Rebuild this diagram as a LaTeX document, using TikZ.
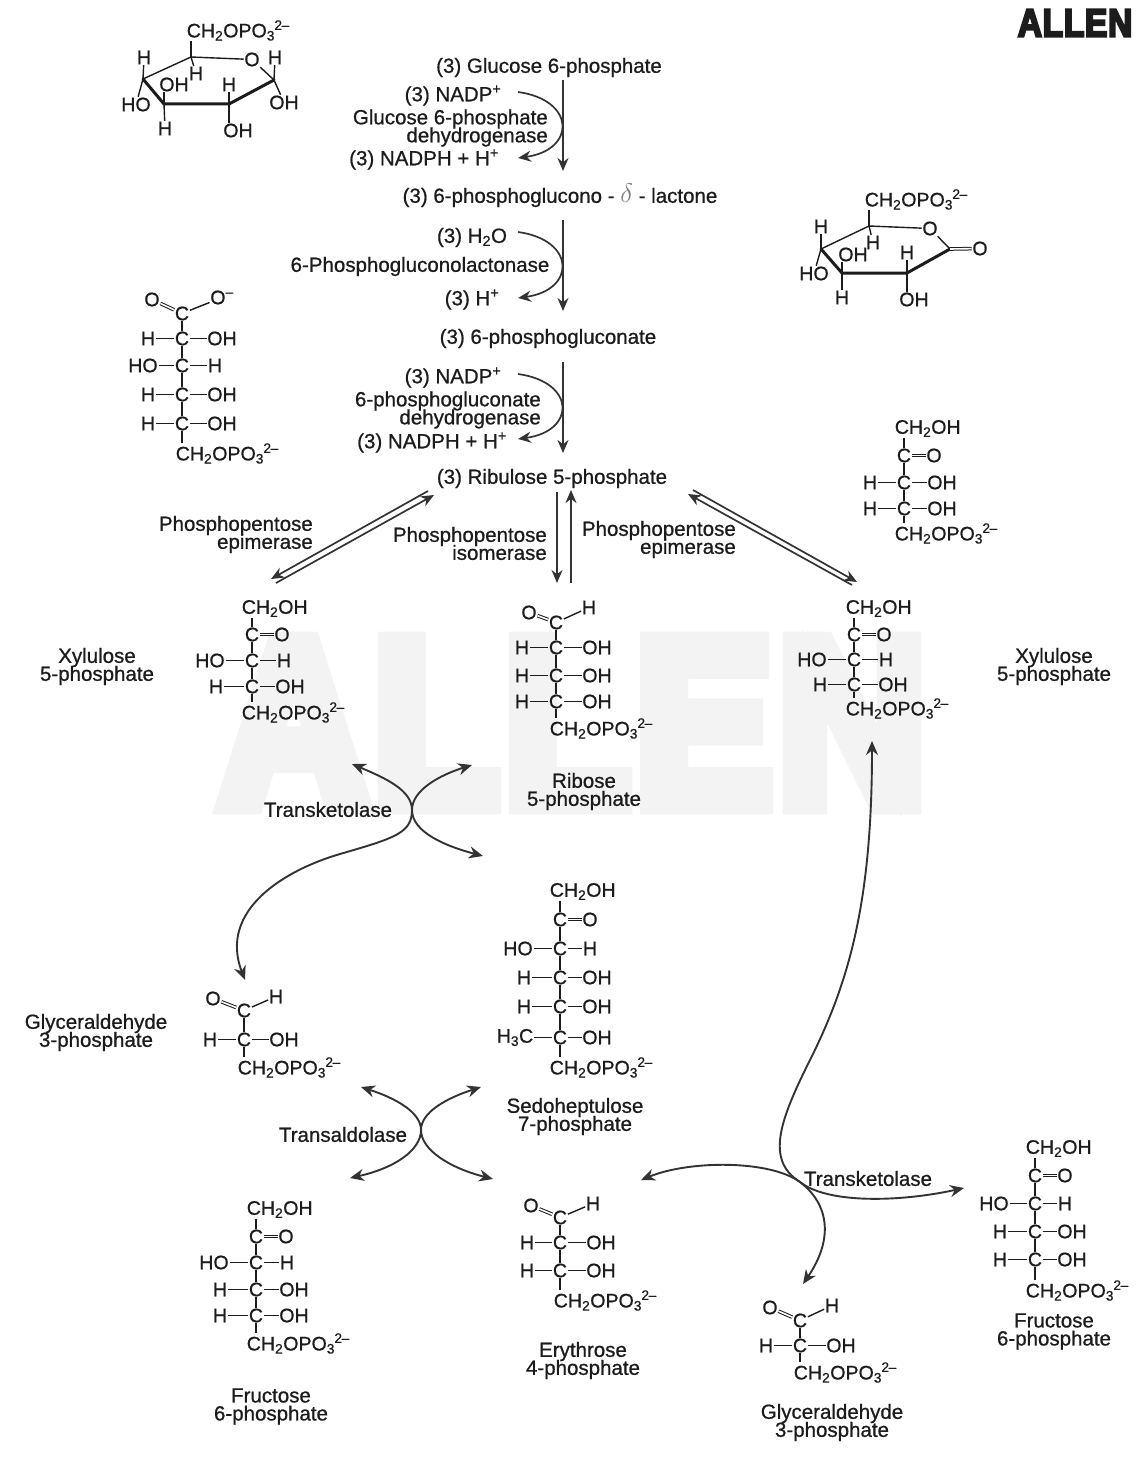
\documentclass[tikz,border=0pt]{standalone}
\usepackage{fontspec}
\setmainfont{Liberation Sans}[FakeBold=0.8]
\newfontfamily\wmfont{Liberation Sans}[BoldFeatures={FakeBold=9,LetterSpace=3}]
\newfontfamily\logofont{Liberation Sans}[BoldFeatures={FakeBold=6,LetterSpace=2}]
\usetikzlibrary{arrows.meta}
\definecolor{ink}{HTML}{1C1C1C}
\definecolor{arrowc}{HTML}{333333}
\definecolor{wmark}{HTML}{F3F3F3}
\newcommand{\CHPO}{CH\textsubscript{2}OPO\textsubscript{3}\kern-0.5pt\textsuperscript{2\kern-0.5pt–}}
\newcommand{\CHOH}{CH\textsubscript{2}OH}
\newcommand{\lblfont}{\fontsize{20.5}{18}\selectfont\setlength{\lineskiplimit}{-10pt}}
\tikzset{
  lbl/.style={inner sep=0pt,text=ink,font=\lblfont,align=center,yshift=-1.5pt},
  rlbl/.style={lbl,align=right,anchor=east},
  atom/.style={inner sep=0.6pt,text=ink,font=\fontsize{19.6}{22}\selectfont,yshift=-0.5pt},
  bond/.style={draw=ink,line width=1.4pt},
  thickbond/.style={draw=ink,line width=3pt,line cap=round},
  dbond/.style={draw=ink,line width=1pt,double=white,double distance=1.6pt},
  arr/.style={draw=arrowc,line width=1.7pt,-{Stealth[length=13pt,width=11pt]}},
  tarr/.style={draw=arrowc,line width=1.9pt,-{Stealth[length=14pt,width=12pt]}},
}
% row of a Fischer projection: id, x, y, left text, left x, right text, right x
\newcommand{\Frow}[7]{%
  \node[atom] (#1c) at (#2,#3) {C};
  \node[atom] (#1l) at (#5,#3) {#4};
  \node[atom] (#1r) at (#7,#3) {#6};
  \draw[bond] (#1l) -- (#1c) -- (#1r);}
% carbonyl: id, x, y, O x
\newcommand{\Fket}[4]{%
  \node[atom] (#1c) at (#2,#3) {C};
  \node[atom] (#1o) at (#4,#3) {O};
  \draw[dbond] (#1c) -- (#1o);}
% aldehyde: id, C x, C y, O x, O y, H x, H y
\newcommand{\Fald}[7]{%
  \node[atom] (#1c) at (#2,#3) {C};
  \node[atom] (#1o) at (#4,#5) {O};
  \node[atom] (#1h) at (#6,#7) {H};
  \draw[dbond] (#1c) -- (#1o);
  \draw[bond] (#1c) -- (#1h);}
% end groups: id, west x, y, text
\newcommand{\Fend}[4]{\node[atom,anchor=west] (#1) at (#2,#3) {#4};}
\newcommand{\Vb}[2]{\draw[bond] (#1) -- (#2);}
\newcommand{\Vtop}[2]{\draw[bond] (#2 |- #1.south) -- (#2);}
\newcommand{\Vbot}[2]{\draw[bond] (#1) -- (#1 |- #2.north);}
\begin{document}
\begin{tikzpicture}[x=1pt,y=-1pt]
\useasboundingbox (0,0) rectangle (1142,1458);
% watermark and logo
\node[inner sep=0pt,text=wmark,font=\wmfont\bfseries\fontsize{235}{235}\selectfont,xscale=0.87,transform shape] (wm) at (573,723) {ALLEN};
\node[inner sep=0pt,text=ink,font=\logofont\bfseries\fontsize{39}{39}\selectfont,xscale=0.86,transform shape] (logo) at (1075,23) {ALLEN};

% central pathway labels
\node[lbl] (g6p) at (549,66) {(3) Glucose 6-phosphate};
\node[lbl] (nadp1) at (453,94) {(3) NADP\textsuperscript{+}};
\node[rlbl] (gdh) at (548,126.5) {Glucose 6-phosphate\\dehydrogenase};
\node[lbl] (nadph1) at (424,158) {(3) NADPH + H\textsuperscript{+}};
\node[lbl] (lact) at (560,196) {(3) 6-phosphoglucono - {\color{gray}\smash{\scalebox{1.3}{$\delta$}}} - lactone};
\node[lbl] (h2o) at (472,236) {(3) H\textsubscript{2}O};
\node[lbl] (pgl) at (420,265) {6-Phosphogluconolactonase};
\node[lbl] (hp) at (472,298) {(3) H\textsuperscript{+}};
\node[lbl] (pg) at (548,337) {(3) 6-phosphogluconate};
\node[lbl] (nadp2) at (453,376) {(3) NADP\textsuperscript{+}};
\node[rlbl] (pgd) at (541,408.5) {6-phosphogluconate\\dehydrogenase};
\node[lbl] (nadph2) at (432,441) {(3) NADPH + H\textsuperscript{+}};
\node[lbl] (ru5p) at (552,477) {(3) Ribulose 5-phosphate};
\node[rlbl] (epiL) at (313,533) {Phosphopentose\\epimerase};
\node[rlbl] (iso) at (547,542) {Phosphopentose\\isomerase};
\node[rlbl] (epiR) at (736,538) {Phosphopentose\\epimerase};
\node[lbl] (xuL) at (97,665) {Xylulose\\5-phosphate};
\node[lbl] (xuR) at (1054,665) {Xylulose\\5-phosphate};
\node[lbl] (ribn) at (584,790) {Ribose\\5-phosphate};
\node[lbl] (tk1) at (328,808) {Transketolase};
\node[lbl] (gapL) at (96,1031) {Glyceraldehyde\\3-phosphate};
\node[lbl] (sed) at (575,1115) {Sedoheptulose\\7-phosphate};
\node[lbl] (ta) at (343,1133) {Transaldolase};
\node[lbl] (f6pL) at (271,1405) {Fructose\\6-phosphate};
\node[lbl] (f6pR) at (1054,1330) {Fructose\\6-phosphate};
\node[lbl] (e4p) at (583,1359) {Erythrose\\4-phosphate};
\node[lbl] (gapB) at (832,1421) {Glyceraldehyde\\3-phosphate};
\node[lbl] (tk2) at (868,1177) {Transketolase};

% glucose 6-phosphate ring
\coordinate (gC5) at (191,57); \coordinate (gC1) at (274,80); \coordinate (gC2) at (229,104);
\coordinate (gC3) at (164,104); \coordinate (gC4) at (143,79);
\node[atom,anchor=west] (gP) at (186,30) {\CHPO};
\node[atom] (gO) at (252,59) {O};
\node[atom] (gH4) at (144,57) {H};
\node[atom] (gH5) at (196,73) {H};
\node[atom] (gOH3) at (174,84) {OH};
\node[atom] (gH2) at (229,84) {H};
\node[atom] (gH1) at (275,57) {H};
\node[atom] (gHO4) at (136,104) {HO};
\node[atom] (gOH1) at (284,102) {OH};
\node[atom] (gH3) at (165,128) {H};
\node[atom] (gOH2) at (238,130) {OH};
\draw[bond] (gC5 |- gP.south) -- (gC5);
\draw[bond] (gC5) -- (gO);
\draw[bond] (gO) -- (gC1);
\draw[bond] (gC4) -- (gC5);
\draw[thickbond] (gC1) -- (gC2) -- (gC3) -- (gC4);
\draw[bond] (gC1) -- (gH1); \draw[bond] (gC1) -- (gOH1);
\draw[bond] (gC2) -- (gH2); \draw[bond] (gC2) -- (gC2 |- gOH2.north);
\draw[bond] (gC3) -- (gC3 |- gOH3.south); \draw[bond] (gC3) -- (gH3);
\draw[bond] (gC4) -- (gH4); \draw[bond] (gC4) -- (gHO4);
\draw[bond] (gC5) -- (gH5);

% lactone ring
\coordinate (lC5) at (869,226); \coordinate (lC1) at (950,249); \coordinate (lC2) at (907,273);
\coordinate (lC3) at (842,273); \coordinate (lC4) at (821,249);
\node[atom,anchor=west] (lP) at (864,199) {\CHPO};
\node[atom] (lO) at (930,228) {O};
\node[atom] (lOd) at (980,248) {O};
\node[atom] (lH4) at (821,226) {H};
\node[atom] (lH5) at (873,242) {H};
\node[atom] (lOH3) at (853,254) {OH};
\node[atom] (lH2) at (907,252) {H};
\node[atom] (lHO4) at (814,273) {HO};
\node[atom] (lH3) at (842,297) {H};
\node[atom] (lOH2) at (914,299) {OH};
\draw[bond] (lC5 |- lP.south) -- (lC5);
\draw[bond] (lC5) -- (lO);
\draw[bond] (lO) -- (lC1);
\draw[bond] (lC4) -- (lC5);
\draw[thickbond] (lC1) -- (lC2) -- (lC3) -- (lC4);
\draw[dbond] (lC1) -- (lOd);
\draw[bond] (lC2) -- (lH2); \draw[bond] (lC2) -- (lC2 |- lOH2.north);
\draw[bond] (lC3) -- (lC3 |- lOH3.south); \draw[bond] (lC3) -- (lH3);
\draw[bond] (lC4) -- (lH4); \draw[bond] (lC4) -- (lHO4);
\draw[bond] (lC5) -- (lH5);

% 6-phosphogluconate
\node[atom] (pgc) at (182,313) {C};
\node[atom] (pgo) at (152,299) {O};
\node[atom] (pgm) at (222,297) {O\textsuperscript{–}};
\draw[dbond] (pgc) -- (pgo);
\draw[bond] (pgc) -- (pgm);
\Frow{pga}{182}{338}{H}{148}{OH}{222}
\Frow{pgb}{182}{365}{HO}{143}{H}{215}
\Frow{pgd2}{182}{394}{H}{148}{OH}{222}
\Frow{pge}{182}{423}{H}{148}{OH}{222}
\Fend{pgend}{175}{453}{\CHPO}
\Vb{pgc}{pgac}\Vb{pgac}{pgbc}\Vb{pgbc}{pgd2c}\Vb{pgd2c}{pgec}\Vbot{pgec}{pgend}

% ribulose
\Fend{rut}{894}{428}{\CHOH}
\Fket{rua}{904}{455}{934}
\Frow{rub}{904}{482}{H}{870}{OH}{942}
\Frow{ruc}{904}{508}{H}{870}{OH}{942}
\Fend{ruend}{894}{533}{\CHPO}
\Vtop{rut}{ruac}\Vb{ruac}{rubc}\Vb{rubc}{rucc}\Vbot{rucc}{ruend}

% xylulose left
\Fend{xlt}{241}{608}{\CHOH}
\Fket{xla}{252}{634}{282}
\Frow{xlb}{252}{660}{HO}{210}{H}{284}
\Frow{xlc}{252}{686}{H}{216}{OH}{290}
\Fend{xlend}{241}{712}{\CHPO}
\Vtop{xlt}{xlac}\Vb{xlac}{xlbc}\Vb{xlbc}{xlcc}\Vbot{xlcc}{xlend}

% xylulose right
\Fend{xrt}{845}{608}{\CHOH}
\Fket{xra}{854}{634}{884}
\Frow{xrb}{854}{659}{HO}{812}{H}{886}
\Frow{xrc}{854}{684}{H}{820}{OH}{893}
\Fend{xrend}{845}{708}{\CHPO}
\Vtop{xrt}{xrac}\Vb{xrac}{xrbc}\Vb{xrbc}{xrcc}\Vbot{xrcc}{xrend}

% ribose
\Fald{rba}{556}{622}{529}{612}{589}{607}
\Frow{rbb}{556}{647}{H}{522}{OH}{597}
\Frow{rbc}{556}{675}{H}{522}{OH}{597}
\Frow{rbd}{556}{701}{H}{522}{OH}{597}
\Fend{rbend}{549}{728}{\CHPO}
\Vb{rbac}{rbbc}\Vb{rbbc}{rbcc}\Vb{rbcc}{rbdc}\Vbot{rbdc}{rbend}

% sedoheptulose
\Fend{set}{549}{891}{\CHOH}
\Fket{sea}{560}{919}{590}
\Frow{seb}{560}{948}{HO}{518}{H}{590}
\Frow{sec}{560}{977}{H}{524}{OH}{597}
\Frow{sed2}{560}{1006}{H}{524}{OH}{597}
\Frow{see}{560}{1037}{H\textsubscript{3}C}{515}{OH}{597}
\Fend{seend}{549}{1067}{\CHPO}
\Vtop{set}{seac}\Vb{seac}{sebc}\Vb{sebc}{secc}\Vb{secc}{sed2c}\Vb{sed2c}{seec}\Vbot{seec}{seend}

% glyceraldehyde 3-phosphate, left
\Fald{gla}{244}{1010}{213}{998}{276}{996}
\Frow{glb}{244}{1039}{H}{210}{OH}{284}
\Fend{glend}{237}{1067}{\CHPO}
\Vb{glac}{glbc}\Vbot{glbc}{glend}

% fructose, left
\Fend{flt}{246}{1209}{\CHOH}
\Fket{fla}{256}{1236}{286}
\Frow{flb}{256}{1262}{HO}{214}{H}{287}
\Frow{flc}{256}{1289}{H}{220}{OH}{294}
\Frow{fld}{256}{1315}{H}{220}{OH}{294}
\Fend{flend}{246}{1343}{\CHPO}
\Vtop{flt}{flac}\Vb{flac}{flbc}\Vb{flbc}{flcc}\Vb{flcc}{fldc}\Vbot{fldc}{flend}

% erythrose
\Fald{era}{560}{1217}{531}{1205}{593}{1203}
\Frow{erb}{560}{1242}{H}{527}{OH}{601}
\Frow{erc}{560}{1270}{H}{527}{OH}{601}
\Fend{erend}{553}{1300}{\CHPO}
\Vb{erac}{erbc}\Vb{erbc}{ercc}\Vbot{ercc}{erend}

% glyceraldehyde 3-phosphate, bottom
\Fald{gba}{800}{1320}{770}{1307}{832}{1305}
\Frow{gbb}{800}{1345}{H}{766}{OH}{841}
\Fend{gbend}{793}{1372}{\CHPO}
\Vb{gbac}{gbbc}\Vbot{gbbc}{gbend}

% fructose, right
\Fend{frt}{1025}{1148}{\CHOH}
\Fket{fra}{1035}{1175}{1065}
\Frow{frb}{1035}{1203}{HO}{994}{H}{1065}
\Frow{frc}{1035}{1231}{H}{1000}{OH}{1072}
\Frow{frd}{1035}{1259}{H}{1000}{OH}{1072}
\Fend{frend}{1025}{1290}{\CHPO}
\Vtop{frt}{frac}\Vb{frac}{frbc}\Vb{frbc}{frcc}\Vb{frcc}{frdc}\Vbot{frdc}{frend}

% straight arrows of the central pathway
\coordinate (a1s) at (563,80); \coordinate (a1e) at (563,171);
\coordinate (a2s) at (563,220); \coordinate (a2e) at (563,311);
\coordinate (a3s) at (563,362); \coordinate (a3e) at (563,453);
\draw[arr] (a1s) -- (a1e);
\draw[arr] (a2s) -- (a2e);
\draw[arr] (a3s) -- (a3e);
% side curves
\coordinate (c1s) at (518,92); \coordinate (c1e) at (518,158);
\coordinate (c2s) at (518,232); \coordinate (c2e) at (518,298);
\coordinate (c3s) at (518,374); \coordinate (c3e) at (518,439);
\draw[arr] (c1s) .. controls (576,100) and (576,150) .. (c1e);
\draw[arr] (c2s) .. controls (576,240) and (576,290) .. (c2e);
\draw[arr] (c3s) .. controls (576,382) and (576,431) .. (c3e);
% ribulose arrows
\coordinate (d1s) at (428,491); \coordinate (d1e) at (271,579);
\coordinate (d2s) at (276,583); \coordinate (d2e) at (434,495);
\coordinate (d3s) at (557,492); \coordinate (d3e) at (557,583);
\coordinate (d4s) at (571,583); \coordinate (d4e) at (571,490);
\coordinate (d5s) at (693,490); \coordinate (d5e) at (857,582);
\coordinate (d6s) at (852,585); \coordinate (d6e) at (688,494);
\draw[arr] (d1s) -- (d1e);
\draw[arr] (d2s) -- (d2e);
\draw[arr] (d3s) -- (d3e);
\draw[arr] (d4s) -- (d4e);
\draw[arr] (d5s) -- (d5e);
\draw[arr] (d6s) -- (d6e);
% transketolase 1
\coordinate (x1) at (412,810);
\coordinate (t1ul) at (352,764); \coordinate (t1ur) at (472,765);
\coordinate (t1lr) at (483,856); \coordinate (t1ll) at (245,980); \coordinate (t1m) at (340,854);
\draw[tarr] (x1) .. controls (412,790) and (385,778) .. (t1ul);
\draw[tarr] (x1) .. controls (412,790) and (440,775) .. (t1ur);
\draw[tarr] (x1) .. controls (412,832) and (445,846) .. (t1lr);
\draw[tarr] (x1) .. controls (412,833) and (395,838) .. (t1m) .. controls (285,870) and (218,910) .. (t1ll);
% transaldolase
\coordinate (x2) at (421,1130);
\coordinate (t2ul) at (361,1087); \coordinate (t2ur) at (481,1087);
\coordinate (t2ll) at (350,1178); \coordinate (t2lr) at (493,1179);
\draw[tarr] (x2) .. controls (421,1112) and (395,1098) .. (t2ul);
\draw[tarr] (x2) .. controls (421,1112) and (447,1098) .. (t2ur);
\draw[tarr] (x2) .. controls (421,1150) and (395,1168) .. (t2ll);
\draw[tarr] (x2) .. controls (421,1150) and (450,1168) .. (t2lr);
% transketolase 2
\coordinate (x3) at (800,1182);
\coordinate (t3l) at (641,1180); \coordinate (t3d) at (803,1284);
\coordinate (t3r) at (964,1188); \coordinate (t3u) at (872,741); \coordinate (t3m) at (810,1060);
\draw[tarr] (x3) .. controls (770,1160) and (690,1160) .. (t3l);
\draw[tarr] (x3) .. controls (830,1205) and (833,1240) .. (t3d);
\draw[tarr] (t3m) .. controls (850,980) and (872,900) .. (t3u);
\draw[tarr] (t3m) .. controls (780,1120) and (765,1160) .. (x3) .. controls (828,1204) and (900,1202) .. (t3r);
\end{tikzpicture}
\end{document}
